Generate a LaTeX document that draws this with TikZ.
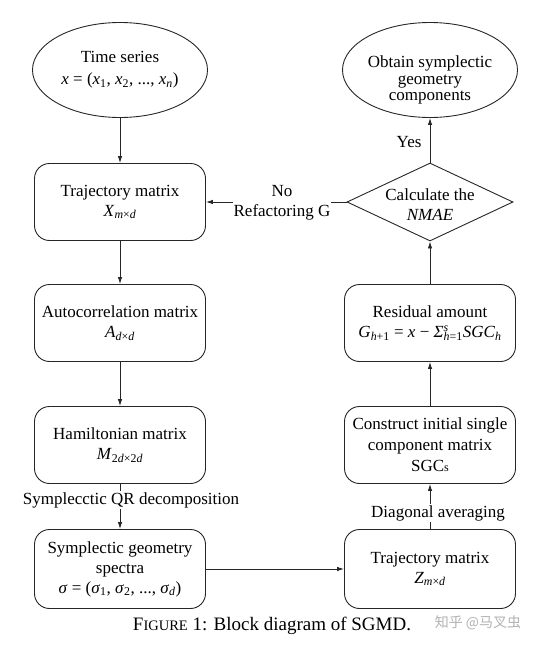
\documentclass[tikz,border=0pt]{standalone}
\usepackage{fontspec}
\setmainfont{Liberation Serif}
\newfontfamily\cjk{Noto Sans CJK SC}
\usetikzlibrary{shapes.geometric,arrows.meta}
\newcommand\itl[1]{\textit{#1}}
\newcommand\sbs[1]{\textsubscript{#1}}
\begin{document}
\begin{tikzpicture}[x=1pt,y=-1pt,
  font=\fontsize{17}{20}\selectfont,
  box/.style={draw=black!85, line width=0.9pt, rounded corners=15pt, minimum width=171pt, minimum height=77pt, align=center, inner sep=2pt},
  oval/.style={draw=black!85, line width=0.9pt, ellipse, minimum width=175pt, minimum height=95pt, align=center, inner sep=0pt},
  arr/.style={draw=black!85, line width=0.9pt, -{Latex[length=7pt,width=4.5pt]}},
  lbl/.style={fill=white, align=center, inner sep=1pt}]
\useasboundingbox (0,0) rectangle (538,648);

% left column
\node[oval, font=\fontsize{17}{22}\selectfont] (ts) at (120,70) {Time series\\ \itl{x} = (\itl{x}\sbs{1}, \itl{x}\sbs{2}, ..., \itl{x}\sbs{\itl{n}})};
\node[box] (traj) at (120,202) {Trajectory matrix\\ \itl{X}\sbs{\itl{m}×\itl{d}}};
\node[box] (auto) at (120,323) {Autocorrelation matrix\\ \itl{A}\sbs{\itl{d}×\itl{d}}};
\node[box] (ham) at (120,445) {Hamiltonian matrix\\ \itl{M}\sbs{2\itl{d}×2\itl{d}}};
\node[box, minimum height=79pt] (sym) at (120,569) {Symplectic geometry\\ spectra\\ \itl{σ} = (\itl{σ}\sbs{1}, \itl{σ}\sbs{2}, ..., \itl{σ}\sbs{\itl{d}})};

% right column
\node[oval] (obt) at (430,70) {};
\node[align=center, font=\fontsize{17}{16.5}\selectfont] (obtt) at (430,80) {Obtain symplectic\\ geometry\\ components};
\node[draw=black!85, line width=0.9pt, diamond, minimum width=166pt, minimum height=78pt, inner sep=0pt] (calc) at (430,202) {};
\node[align=center] (calct) at (430,205) {Calculate the\\ \textit{NMAE}};
\node[box] (res) at (430,323) {Residual amount\\ \itl{G}\sbs{\itl{h}+1} = \itl{x} − \itl{Σ}\rlap{\textsuperscript{\itl{s}}}\sbs{\itl{h}=1}\itl{SGC}\sbs{\itl{h}}};
\node[box, font=\fontsize{17}{21}\selectfont] (cons) at (430,445) {Construct initial single\\ component matrix\\ SGC{\fontsize{12}{14}\selectfont s}};
\node[box, minimum height=79pt] (z) at (430,569) {Trajectory matrix\\ \itl{Z}\sbs{\itl{m}×\itl{d}}};

% connectors
\draw[arr] (ts) -- (traj);
\draw[arr] (traj) -- (auto);
\draw[arr] (auto) -- (ham);
\draw[arr] (ham) -- (sym);
\node[lbl] (qr) at (131,500) {Symplecctic QR decomposition};
\draw[arr] (sym) -- (z);
\draw[arr] (z) -- (cons);
\node[lbl] (diag) at (438,513) {Diagonal averaging};
\draw[arr] (cons) -- (res);
\draw[arr] (res) -- (calc);
\draw[arr] (calc) -- (obt);
\node[anchor=east] (yes) at (425,142) {Yes};
\draw[arr] (calc) -- (traj);
\node[lbl] (no) at (282,203) {No\\ Refactoring G};

% caption
\node[font=\fontsize{19}{22}\selectfont] (cap) at (272,626) {F{\fontsize{14.5}{16}\selectfont IGURE} 1: Block diagram of SGMD.};
\node[text=black!30, font=\cjk\fontsize{14}{16}\selectfont] (wm) at (478,623) {知乎 @马叉虫};
\end{tikzpicture}
\end{document}
